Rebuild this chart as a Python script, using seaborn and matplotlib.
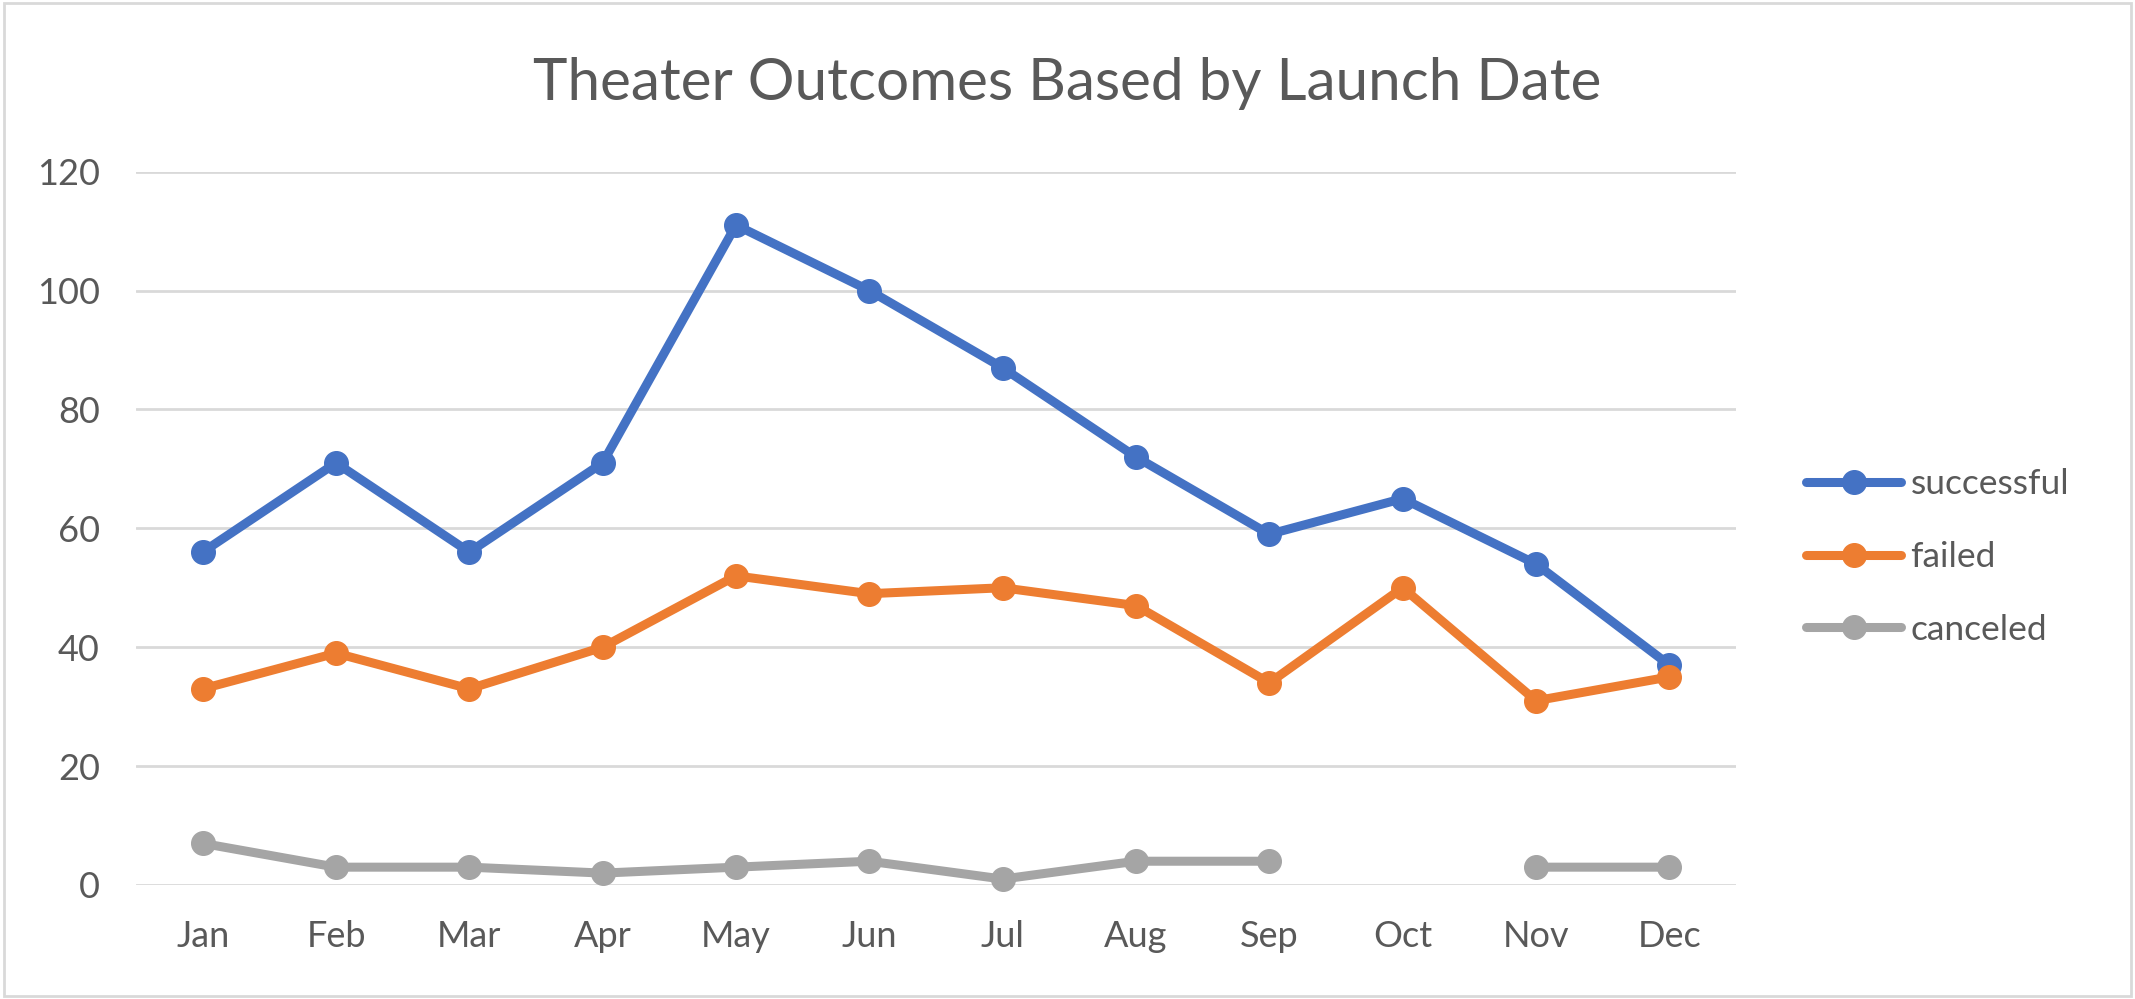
import numpy as np
import pandas as pd
import matplotlib
matplotlib.use("Agg")
import matplotlib.pyplot as plt
import seaborn as sns
from matplotlib.patches import Rectangle

months = ["Jan", "Feb", "Mar", "Apr", "May", "Jun", "Jul", "Aug", "Sep", "Oct", "Nov", "Dec"]
successful = [56, 71, 56, 71, 111, 100, 87, 72, 59, 65, 54, 37]
failed = [33, 39, 33, 40, 52, 49, 50, 47, 34, 50, 31, 35]
canceled = [7, 3, 3, 2, 3, 4, 1, 4, 4, np.nan, 3, 3]
series_names = ["successful", "failed", "canceled"]
colors = ["#4472C4", "#ED7D31", "#A5A5A5"]
yticks = [0, 20, 40, 60, 80, 100, 120]

sns.set_theme(style="white")
plt.rcParams['font.family'] = ['Lato', 'DejaVu Sans']

df = pd.DataFrame({"month": months, "successful": successful, "failed": failed, "canceled": canceled})
long = df.melt(id_vars="month", var_name="outcome", value_name="count")
long["x"] = long["month"].map({m: i for i, m in enumerate(months)})

fig = plt.figure(figsize=(21.35, 9.99), dpi=100)
ax = fig.add_axes([136 / 2135, 1 - 885 / 999, (1736 - 136) / 2135, (885 - 171.6) / 999])

text_color = "#595959"
for name, col in zip(series_names, colors):
    sub = long[long["outcome"] == name]
    ax.plot(sub["x"], sub["count"], color=col, lw=6.5, marker="o", markersize=17,
            solid_capstyle="round", label=name, zorder=3)

ax.set_xlim(-0.5, 11.5)
ax.set_ylim(0, 120)
ax.set_yticks(yticks)
ax.set_xticks(range(len(months)))
ax.set_xticklabels(months)
ax.yaxis.grid(True, color="#D9D9D9", lw=2)
ax.xaxis.grid(False)
for s in ax.spines.values():
    s.set_visible(False)
ax.tick_params(axis="both", length=0, labelsize=26, labelcolor=text_color)
ax.tick_params(axis="x", pad=25)
ax.tick_params(axis="y", pad=26)
for line in ax.lines:
    line.set_clip_on(False)

fig.text(0.5, 1 - 83 / 999, "Theater Outcomes Based by Launch Date", ha="center", va="center",
         fontsize=42, color=text_color)

leg = fig.legend(loc="center left", bbox_to_anchor=(1774 / 2135, 1 - 557 / 999), frameon=False,
                 fontsize=25.5, labelcolor=text_color, handlelength=2.7, labelspacing=1.15,
                 handletextpad=0.25)

fig.patches.append(Rectangle((0.002, 0.003), 0.996, 0.994, transform=fig.transFigure,
                             fill=False, edgecolor="#D9D9D9", lw=2))

fig.savefig("out.png", dpi=100, facecolor="white")
